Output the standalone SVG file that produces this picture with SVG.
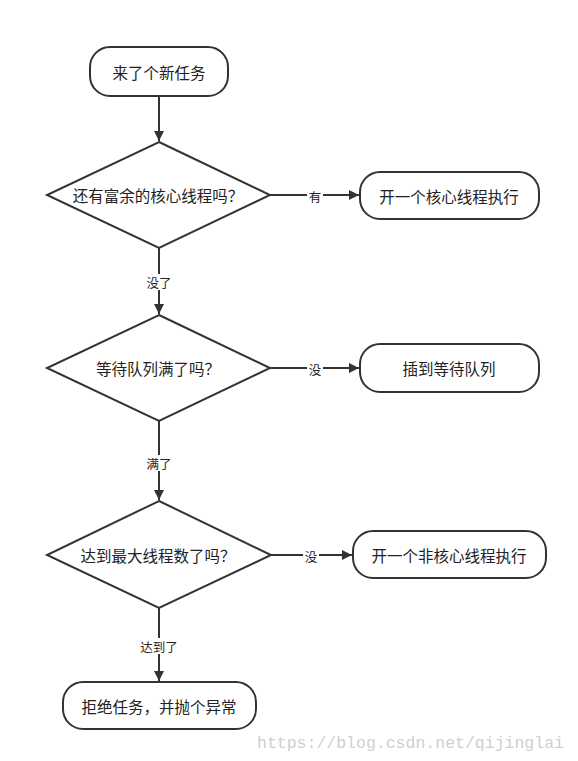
<svg xmlns="http://www.w3.org/2000/svg" width="578" height="761" viewBox="0 0 578 761">
<style>
.n{fill:#fff;stroke:#333;stroke-width:2}
.t{font-family:"Noto Sans CJK SC","Noto Sans",sans-serif;font-size:15.5px;fill:#222;text-anchor:middle;dominant-baseline:central}
.l{font-family:"Noto Sans CJK SC","Noto Sans",sans-serif;font-size:12.5px;fill:#222;text-anchor:middle;dominant-baseline:central}
.e{fill:none;stroke:#333;stroke-width:2}
.lb{fill:#fff}
</style>
<defs>
<marker id="a" viewBox="0 0 10 10" refX="10" refY="5" markerWidth="5.5" markerHeight="5" orient="auto" markerUnits="strokeWidth">
<path d="M0,0 L10,5 L0,10 z" fill="#333"/>
</marker>
</defs>
<rect width="578" height="761" fill="#fff"/>
<g id="connectors">
<path class="e" d="M159,96 V141" marker-end="url(#a)"/>
<path class="e" d="M270,195 H359" marker-end="url(#a)"/>
<path class="e" d="M159,248 V314" marker-end="url(#a)"/>
<path class="e" d="M270,368 H359" marker-end="url(#a)"/>
<path class="e" d="M159,421 V500" marker-end="url(#a)"/>
<path class="e" d="M271,555 H352" marker-end="url(#a)"/>
<path class="e" d="M159,608 V681" marker-end="url(#a)"/>
<rect class="lb" x="307" y="187" width="16" height="16"/>
<text class="l" x="315" y="196">有</text>
<rect class="lb" x="145" y="274" width="28" height="16"/>
<text class="l" x="159" y="282">没了</text>
<rect class="lb" x="307" y="360" width="16" height="16"/>
<text class="l" x="315" y="369">没</text>
<rect class="lb" x="145" y="455" width="28" height="16"/>
<text class="l" x="159" y="463">满了</text>
<rect class="lb" x="303" y="547" width="16" height="16"/>
<text class="l" x="311" y="556">没</text>
<rect class="lb" x="139" y="638" width="40" height="16"/>
<text class="l" x="159" y="646">达到了</text>
</g>
<g id="start">
<rect class="n" x="90" y="47" width="138" height="49" rx="20"/>
<text class="t" x="159" y="72">来了个新任务</text>
</g>
<g id="d1">
<path class="n" d="M159,142 L270,195 L159,248 L47,195 Z"/>
<text class="t" x="158" y="195">还有富余的核心线程吗？</text>
</g>
<g id="core">
<rect class="n" x="360" y="172" width="179" height="47" rx="20"/>
<text class="t" x="449" y="196">开一个核心线程执行</text>
</g>
<g id="d2">
<path class="n" d="M159,315 L270,368 L159,421 L47,368 Z"/>
<text class="t" x="158" y="368">等待队列满了吗？</text>
</g>
<g id="queue">
<rect class="n" x="360" y="344" width="179" height="48" rx="20"/>
<text class="t" x="449" y="368">插到等待队列</text>
</g>
<g id="d3">
<path class="n" d="M159,501 L271,555 L159,608 L47,555 Z"/>
<text class="t" x="158" y="555">达到最大线程数了吗？</text>
</g>
<g id="noncore">
<rect class="n" x="353" y="531" width="193" height="47" rx="20"/>
<text class="t" x="449" y="555">开一个非核心线程执行</text>
</g>
<g id="reject">
<rect class="n" x="63" y="682" width="193" height="47" rx="20"/>
<text class="t" x="159" y="706">拒绝任务，并抛个异常</text>
</g>
<text x="257" y="748" font-family="Liberation Mono,monospace" font-size="16.5" fill="#cfcfcf">https://blog.csdn.net/qijinglai</text>
</svg>
